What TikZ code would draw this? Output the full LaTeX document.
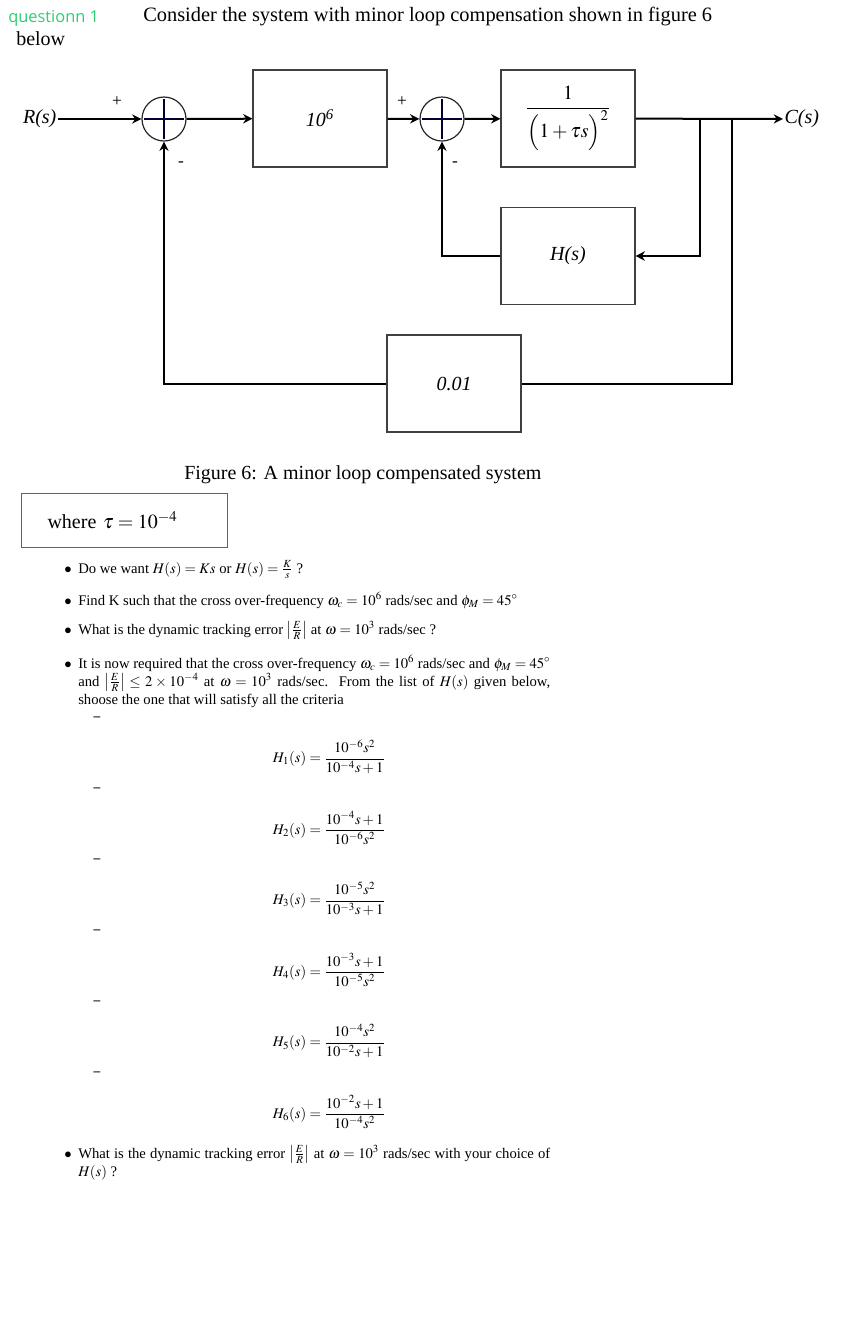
\documentclass[tikz,border=0pt]{standalone}
\usepackage{amsmath}
\usepackage{mathptmx}
\usepackage[no-math]{fontspec}
\setmainfont{Liberation Serif}
\newfontfamily\qfont{Open Sans}
\usetikzlibrary{arrows.meta}
\definecolor{qgreen}{RGB}{46,204,113}
\definecolor{framered}{RGB}{222,45,45}
\tikzset{
  sig/.style={line width=1.5pt, -{Stealth[length=7pt,width=7pt]}},
  wire/.style={line width=1.5pt},
  blockbox/.style={draw=black!75, line width=0.8pt, minimum width=100.5pt, minimum height=72.75pt,
    inner sep=0pt, font=\fontsize{15}{18}\selectfont\itshape},
  sumnode/.style={circle, draw=black!85, line width=0.9pt, minimum size=33pt, inner sep=0pt,
    path picture={\draw[line width=1.8pt, black!80!blue]
      ([yshift=-1.5pt]path picture bounding box.north) -- ([yshift=1.5pt]path picture bounding box.south)
      ([xshift=1.5pt]path picture bounding box.west) -- ([xshift=-1.5pt]path picture bounding box.east);}},
  sign/.style={font=\fontsize{13}{15}\selectfont},
  sigtext/.style={inner sep=1pt, font=\fontsize{15}{18}\selectfont\itshape},
  body/.style={font=\fontsize{11}{13.5}\selectfont},
  bigtext/.style={font=\fontsize{15}{18}\selectfont},
}
\begin{document}
\begin{tikzpicture}[x=0.75pt, y=-0.75pt]
  \useasboundingbox (0,0) rectangle (846,1336);
  % heading
  \node[anchor=base west, inner sep=0pt, text=qgreen, font=\qfont\fontsize{12.3}{14}\selectfont] (qnum) at (8,22) {questionn 1};
  \node[anchor=base west, inner sep=0pt, font=\fontsize{15.3}{18}\selectfont] (intro) at (143,21) {Consider the system with minor loop compensation shown in figure 6};
  \node[anchor=base west, inner sep=0pt, bigtext] (below) at (16,45) {below};

  % forward path: two summers, gain and plant
  \node[anchor=east, sigtext] (rin) at (58,119) {R(s)};
  \node[sumnode] (sum1) at (164,119) {};
  \node[blockbox] (gain) at (320,118.5) {10\textsuperscript{6}};
  \node[sumnode] (sum2) at (442,119) {};
  \node[blockbox, font=\fontsize{15}{18}\selectfont] (plant) at (568,118.5) {$\dfrac{1}{\Bigl(1+\tau s\Bigr)^{2}}$};
  \node[anchor=west, sigtext] (cout) at (783,119) {C(s)};
  \coordinate (tapH) at (700,119);
  \coordinate (tapF) at (732,119);
  \draw[sig] (rin) -- (sum1);
  \draw[sig] (sum1) -- (gain);
  \draw[sig] (gain) -- (sum2);
  \draw[sig] (sum2) -- (plant);
  \draw[sig] (plant) -- (cout);
  \node[sign] (plus1) at (117,102) {+};
  \node[sign] (minus1) at (181,164) {-};
  \node[sign] (plus2) at (402,102) {+};
  \node[sign] (minus2) at (455,164) {-};

  % minor loop through H(s)
  \node[blockbox] (hblk) at (568,256) {H(s)};
  \draw[sig] (tapH) |- (hblk);
  \draw[sig] (hblk) -| (sum2);

  % outer loop through 0.01
  \node[blockbox] (fblk) at (454,383.5) {0.01};
  \draw[wire] (tapF) |- (fblk);
  \draw[sig] (fblk) -| (sum1);

  \node[anchor=base west, inner sep=0pt, bigtext] (caption) at (184,479) {Figure 6: A minor loop compensated system};

  % the red frame with tau
  \node[anchor=north west, draw=framered, line width=0.8pt, minimum width=154.5pt, minimum height=40.5pt,
    inner xsep=19.5pt, text width=115.5pt, align=left, bigtext] (tau) at (21,493) {where $\tau = 10^{-4}$};

  % the questions
  \node[anchor=base west, inner sep=0pt, body] (item1) at (78,573)
    {\llap{$\bullet$\hspace{5pt}}Do we want $H(s) = Ks$ or $H(s) = \frac{K}{s}$ ?};
  \node[anchor=base west, inner sep=0pt, body] (item2) at (78,605)
    {\llap{$\bullet$\hspace{5pt}}Find K such that the cross over-frequency $\omega_c = 10^6$ rads/sec and $\phi_M = 45^\circ$};
  \node[anchor=base west, inner sep=0pt, body] (item3) at (78,634)
    {\llap{$\bullet$\hspace{5pt}}What is the dynamic tracking error $\left|\frac{E}{R}\right|$ at $\omega = 10^3$ rads/sec ?};
  \node[anchor=north west, inner sep=0pt, text width=354pt, align=justify, body] (item4) at (78,655)
    {\llap{$\bullet$\hspace{5pt}}It is now required that the cross over-frequency $\omega_c = 10^6$ rads/sec and $\phi_M = 45^\circ$\linebreak
     and $\left|\frac{E}{R}\right| \le 2\times10^{-4}$ at $\omega = 10^3$ rads/sec.\ \ From the list of $H(s)$ given below,\linebreak
     shoose the one that will satisfy all the criteria};

  % the six candidates
  \foreach \k/\num/\den in {1/{10^{-6}s^2}/{10^{-4}s+1}, 2/{10^{-4}s+1}/{10^{-6}s^2},
                            3/{10^{-5}s^2}/{10^{-3}s+1}, 4/{10^{-3}s+1}/{10^{-5}s^2},
                            5/{10^{-4}s^2}/{10^{-2}s+1}, 6/{10^{-2}s+1}/{10^{-4}s^2}} {
    \node[body, font=\bfseries] (dash\k) at (97,{648+71*\k}) {\textendash};
    \node[body] (hsel\k) at (329,{686+71*\k}) {$H_{\k}(s) = \dfrac{\num}{\den}$};
  }

  \node[anchor=north west, inner sep=0pt, text width=354pt, align=justify, body] (item5) at (78,1145)
    {\llap{$\bullet$\hspace{5pt}}What is the dynamic tracking error $\left|\frac{E}{R}\right|$ at $\omega = 10^3$ rads/sec with your choice of\linebreak
     $H(s)$ ?};
\end{tikzpicture}
\end{document}
